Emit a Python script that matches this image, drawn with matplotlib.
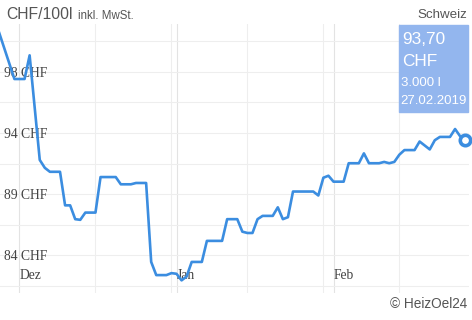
import matplotlib
matplotlib.use("Agg")
import matplotlib.pyplot as plt
from matplotlib.patches import Rectangle
import pandas as pd

# price history, CHF per 100 l (3000 l order)
dates = ["2018-11-27", "2018-11-30", "2018-12-02", "2018-12-03", "2018-12-05",
         "2018-12-06", "2018-12-07", "2018-12-09", "2018-12-10", "2018-12-11",
         "2018-12-12", "2018-12-13", "2018-12-14", "2018-12-16", "2018-12-17",
         "2018-12-20", "2018-12-21", "2018-12-23", "2018-12-24", "2018-12-26",
         "2018-12-27", "2018-12-28", "2018-12-30", "2018-12-31", "2019-01-01",
         "2019-01-02", "2019-01-03", "2019-01-04", "2019-01-06", "2019-01-07",
         "2019-01-10", "2019-01-11", "2019-01-13", "2019-01-14", "2019-01-15",
         "2019-01-16", "2019-01-17", "2019-01-18", "2019-01-20", "2019-01-21",
         "2019-01-22", "2019-01-23", "2019-01-24", "2019-01-28", "2019-01-29",
         "2019-01-30", "2019-01-31", "2019-02-01", "2019-02-03", "2019-02-04",
         "2019-02-06", "2019-02-07", "2019-02-08", "2019-02-10", "2019-02-11",
         "2019-02-12", "2019-02-13", "2019-02-14", "2019-02-15", "2019-02-17",
         "2019-02-18", "2019-02-20", "2019-02-21", "2019-02-22", "2019-02-24",
         "2019-02-25", "2019-02-26", "2019-02-27"]
prices = [101.8, 98.3, 98.3, 100.1, 92.15,
          91.55, 91.25, 91.25, 88.7, 88.7,
          87.65, 87.6, 88.15, 88.15, 90.85,
          90.85, 90.3, 90.3, 90.4, 90.4,
          84.4, 83.4, 83.4, 83.55, 83.5,
          83.0, 83.3, 84.4, 84.4, 86.0,
          86.0, 87.65, 87.65, 86.7, 86.6,
          86.6, 87.65, 87.9, 87.9, 88.55,
          87.65, 87.8, 89.75, 89.75, 89.45,
          90.8, 90.95, 90.5, 90.5, 91.9,
          91.9, 92.65, 91.9, 91.9, 92.0,
          91.9, 92.0, 92.55, 92.9, 92.9,
          93.55, 92.95, 93.65, 93.9, 93.9,
          94.5, 93.95, 93.70]

ytick_vals = [84.9, 89.55, 94.2, 98.85]
ytick_labels = ["84 CHF", "89 CHF", "94 CHF", "98 CHF"]
ygrid_minor = [82.575, 87.225, 91.875, 96.525, 101.175]
month_ticks = ["2018-12-01", "2019-01-01", "2019-02-01"]
month_labels = ["Dez", "Jan", "Feb"]
half_month_ticks = ["2018-12-16", "2018-12-31", "2019-01-15", "2019-01-30", "2019-02-14"]

x = pd.to_datetime(dates)
W, H = 472, 320
blue = "#3b8de0"
grey = "#555555"

fig = plt.figure(figsize=(W / 100, H / 100), dpi=100)
ax = fig.add_axes([0, 27 / H, 469 / W, 269 / H])

ax.plot(x, prices, color=blue, lw=1.9, solid_joinstyle="round", zorder=3)
ax.plot(x[-1:], prices[-1:], "o", ms=7.5, mfc="white", mec=blue, mew=2.6,
        zorder=4, clip_on=False)

start = pd.Timestamp("2018-12-01")
ax.set_xlim(start - pd.Timedelta(days=3.85), start + pd.Timedelta(days=88.75))
ax.set_ylim(82.04, 102.48)

ax.set_xticks(pd.to_datetime(month_ticks))
ax.set_xticklabels(month_labels)
ax.set_xticks(pd.to_datetime(half_month_ticks), minor=True)
ax.set_yticks(ytick_vals)
ax.set_yticklabels(ytick_labels)
ax.set_yticks(ygrid_minor, minor=True)

ax.grid(True, which="major", axis="x", color="#e3e3e3", lw=0.8)
ax.grid(True, which="minor", axis="x", color="#eeeeee", lw=0.8)
ax.grid(True, which="both", axis="y", color="#eeeeee", lw=0.8)
ax.set_axisbelow(True)
for s in ax.spines.values():
    s.set_visible(False)

ax.tick_params(which="both", length=0)
ax.tick_params(axis="y", pad=-3, labelsize=9.8, labelcolor="#444444")
ax.tick_params(axis="x", pad=-17, labelsize=9.8, labelcolor="#444444")
for lbl in ax.get_yticklabels():
    lbl.set_fontfamily("Liberation Serif")
    lbl.set_ha("left")
for lbl in ax.get_xticklabels():
    lbl.set_fontfamily("Liberation Serif")
    lbl.set_ha("left")

sans = "Liberation Sans"
fig.text(6 / W, 1 - 19 / H, "CHF/100l", fontsize=11.3, color=grey,
         family=sans, va="baseline")
fig.text(78 / W, 1 - 19 / H, "inkl. MwSt.", fontsize=8.3, color=grey,
         family=sans, va="baseline")
fig.text(467 / W, 1 - 18 / H, "Schweiz", fontsize=9.6, color=grey,
         family=sans, va="baseline", ha="right")
fig.text(467 / W, 1 - 308 / H, "\u00a9 HeizOel24", fontsize=9.8, color=grey,
         family=sans, va="baseline", ha="right")

# price box
fig.patches.append(Rectangle((399 / W, 1 - 112 / H), 69 / W, 87 / H,
                             transform=fig.transFigure, color="#93b6ee", zorder=5))
fig.text(402 / W, 1 - 40 / H, "93,70", fontsize=12.4, color="white",
         family=sans, va="center", zorder=6)
fig.text(402 / W, 1 - 62 / H, "CHF", fontsize=12.4, color="white",
         family=sans, va="center", zorder=6)
fig.text(401 / W, 1 - 83 / H, "3.000 l", fontsize=9.5, color="white",
         family=sans, va="center", zorder=6)
fig.text(400 / W, 1 - 101 / H, "27.02.2019", fontsize=9.5, color="white",
         family=sans, va="center", zorder=6)

fig.savefig("out.png", dpi=100)
